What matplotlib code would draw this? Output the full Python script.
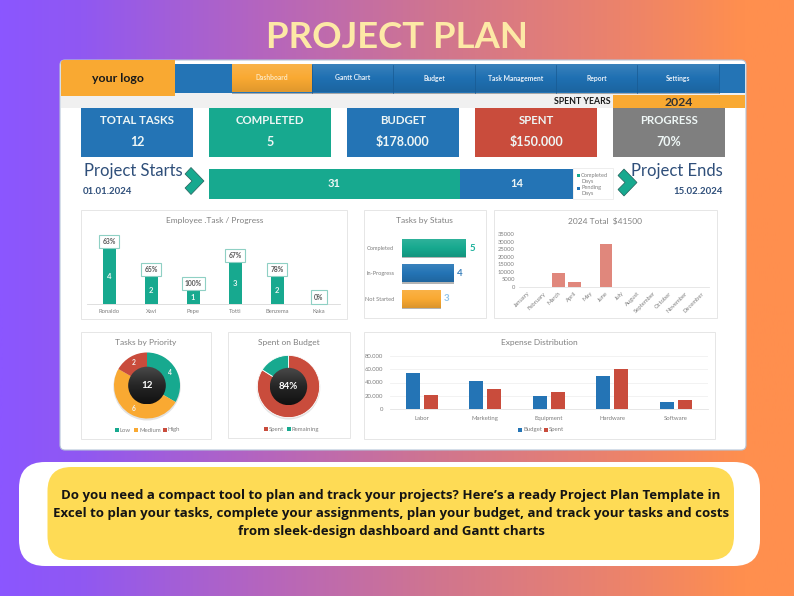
import numpy as np
import matplotlib
matplotlib.use("Agg")
import matplotlib.pyplot as plt
from matplotlib.patches import Rectangle, FancyBboxPatch, Polygon, Circle
from matplotlib.colors import LinearSegmentedColormap, to_rgb

plt.rcParams['font.family'] = ['Lato', 'DejaVu Sans']

BLUE = '#2474b5'; TEAL = '#17a98f'; RED = '#c94c3c'; GREY = '#7f7f7f'; ORANGE = '#f9a932'
NAVY = '#2f4f7a'; TXT = '#7f7f7f'

W, H = 794, 596
fig = plt.figure(figsize=(W/100, H/100), dpi=100)
base = fig.add_axes([0, 0, 1, 1])
base.set_xlim(0, W); base.set_ylim(H, 0); base.axis('off'); base.set_autoscale_on(False)

def ax_px(x0, y0, x1, y1):
    a = fig.add_axes([x0/W, 1-y1/H, (x1-x0)/W, (y1-y0)/H])
    a.patch.set_alpha(0)
    return a

def rect(x0, y0, x1, y1, c, **k):
    base.add_patch(Rectangle((x0, y0), x1-x0, y1-y0, fc=c, ec=k.pop('ec', 'none'), **k))

def rrect(x0, y0, x1, y1, c, r, **k):
    base.add_patch(FancyBboxPatch((x0+r, y0+r), x1-x0-2*r, y1-y0-2*r,
                   boxstyle=f'round,pad={r},rounding_size={r}', fc=c, ec=k.pop('ec', 'none'), **k))

def shade(c, f):
    r = np.array(to_rgb(c))
    return tuple(np.clip(r + (1-r)*f, 0, 1)) if f > 0 else tuple(r*(1+f))

def vgrad(c, top=.12, bottom=-.1):
    return LinearSegmentedColormap.from_list('v', [shade(c, top), shade(c, 0), shade(c, bottom)])

def grect(x0, y0, x1, y1, c, z=3):
    base.imshow(np.linspace(0, 1, 32).reshape(-1, 1), cmap=vgrad(c), extent=[x0, x1, y1, y0],
                aspect='auto', zorder=z)

# ---------- data ----------
nav_labels = ['Dashboard', 'Gantt Chart', 'Budget', 'Task Management', 'Report', 'Settings']
kpi_titles = ['TOTAL TASKS', 'COMPLETED', 'BUDGET', 'SPENT', 'PROGRESS']
kpi_values = ['12', '5', '$178.000', '$150.000', '70%']
timeline_days = [31, 14]
timeline_names = ['Completed\nDays', 'Pending\nDays']

employees = ['Ronaldo', 'Xavi', 'Pepe', 'Totti', 'Benzema', 'Kaka']
employee_tasks = [4, 2, 1, 3, 2, 0]
employee_progress = ['63%', '65%', '100%', '67%', '78%', '0%']

status_names = ['Completed', 'In-Progress', 'Not Started']
status_values = [5, 4, 3]

months = ['January', 'February', 'March', 'April', 'May', 'June', 'July', 'August',
          'September', 'October', 'November', 'December']
month_totals = [0, 0, 8900, 3100, 0, 28600, 0, 0, 0, 0, 0, 0]

priority_names = ['Low', 'Medium', 'High']
priority_values = [4, 6, 2]
budget_names = ['Spent', 'Remaining']
budget_values = [84, 16]

expense_cats = ['Labor', 'Marketing', 'Equipment', 'Hardware', 'Software']
expense_budget = [54000, 42000, 20000, 50000, 10000]
expense_spent = [21000, 29500, 25000, 60000, 14000]

# ---------- background ----------
grad = LinearSegmentedColormap.from_list('g', [(0, '#8b56ff'), (.1, '#9058f2'), (.33, '#b565be'),
                                               (.55, '#d0758f'), (.8, '#ee8468'), (.94, '#ff8f4e'), (1, '#ff8f4e')])
base.imshow(np.linspace(0, 1, 400).reshape(1, -1), cmap=grad, extent=[0, W, H, 0], aspect='auto', zorder=0)

base.text(397, 38, 'PROJECT PLAN', ha='center', va='center', fontsize=26.3, color='#fde9a6',
          fontweight='bold', zorder=4)

# ---------- dashboard sheet ----------
rrect(60, 60, 746, 450, 'white', 5, ec='#b4c4d8', lw=0.8, zorder=1)
rect(61, 64, 745, 92.5, BLUE, zorder=2)
rect(61, 92.5, 745, 108, '#f0f0f0', zorder=2)
rrect(61, 60, 175, 96, ORANGE, 3, zorder=2)
rect(61, 72, 175, 96, ORANGE, zorder=2)
rect(100, 60, 175, 72, ORANGE, zorder=2)
base.text(118, 78, 'your logo', ha='center', va='center', fontsize=8.9, fontweight='bold',
          color='#1a1a1a', zorder=4)

nav_edges = [232, 312, 393, 475, 556, 637, 719]
for i, lab in enumerate(nav_labels):
    x0, x1 = nav_edges[i], nav_edges[i+1]
    rect(x0, 92.5, x1, 94, '#a8a8a8', zorder=2)
    grect(x0, 64.5, x1, 92.5, ORANGE if i == 0 else '#1f70b2')
    base.plot([x1, x1], [64.5, 92.5], color='#185a92', lw=0.5, zorder=3.5)
    base.text((x0+x1)/2, 78, lab, ha='center', va='center', fontsize=4.9, fontweight='bold',
              color='#fde7c0' if i == 0 else '#e8f0f8', zorder=4)

base.text(611, 102, 'SPENT YEARS', ha='right', va='center', fontsize=6.3, fontweight='bold',
          color='#1a1a1a', zorder=4)
rect(613, 95, 745, 108, ORANGE, zorder=3)
base.text(679, 102, '2024', ha='center', va='center', fontsize=8.8, fontweight='bold', color='#333333', zorder=4)

kpi_boxes = [(81, 193, BLUE), (209, 331, TEAL), (347, 459, BLUE), (475, 597, RED), (613, 725, GREY)]
for (x0, x1, c), t, v in zip(kpi_boxes, kpi_titles, kpi_values):
    rect(x0, 108, x1, 157, c, zorder=2)
    base.text((x0+x1)/2, 121, t, ha='center', va='center', fontsize=8.2, fontweight='bold', color='#eef6f5', zorder=4)
    base.text((x0+x1)/2, 142, v, ha='center', va='center', fontsize=9, fontweight='bold', color='#eef6f5', zorder=4)

# ---------- timeline ----------
base.text(84, 171, 'Project Starts', ha='left', va='center', fontsize=12, color=NAVY, zorder=4)
base.text(83, 192, '01.01.2024', ha='left', va='center', fontsize=6.9, fontweight='bold', color=NAVY, zorder=4)
base.text(723, 171, 'Project Ends', ha='right', va='center', fontsize=12, color=NAVY, zorder=4)
base.text(723, 192, '15.02.2024', ha='right', va='center', fontsize=6.9, fontweight='bold', color=NAVY, zorder=4)

def chevron(x, cy):
    base.add_patch(Polygon([(x, cy-7), (x+6, cy-13.5), (x+19, cy), (x+6, cy+13.5), (x, cy+7), (x+7, cy)],
                           fc=TEAL, ec='#245f5a', lw=0.5, zorder=3))
chevron(185, 181); chevron(618, 182.5)

tl = ax_px(209, 169, 573, 199)
left = 0
for v, c in zip(timeline_days, [TEAL, BLUE]):
    tl.barh(0, v, left=left, height=1, color=c)
    tl.text(left+v/2, 0, str(v), ha='center', va='center', fontsize=8, fontweight='bold', color='#eef6f5')
    left += v
tl.set_xlim(0, sum(timeline_days)); tl.set_ylim(-.5, .5); tl.axis('off')

rect(573, 168, 613, 199, 'white', ec='#e8e8e8', lw=0.5, zorder=2)
for y, c, n in zip([175.5, 188], [TEAL, BLUE], timeline_names):
    rect(577, y-1.5, 580, y+1.5, c, zorder=3)
    base.text(581, y+3, n, ha='left', va='center', fontsize=4.1, color=TXT, linespacing=1.25, zorder=4)

# ---------- chart panels ----------
for x0, y0, x1, y1 in [(81, 210, 347, 319), (364, 210, 486, 318), (494, 210, 717, 318),
                       (81, 332, 211, 439), (228, 332, 350, 438), (364, 332, 715, 439)]:
    rect(x0, y0, x1, y1, 'white', ec='#e6e6e6', lw=0.7, zorder=2)

def title(x, y, s, fs=6):
    base.text(x, y, s, ha='center', va='center', fontsize=fs, color='#808080', zorder=4)

# employee
title(214.5, 221, 'Employee .Task / Progress')
a = ax_px(87, 236, 340, 304)
xp = np.arange(len(employees))
a.bar(xp, employee_tasks, width=0.31, color=TEAL)
for x, t, p in zip(xp, employee_tasks, employee_progress):
    if t:
        a.text(x, t/2, str(t), ha='center', va='center', fontsize=5.5, fontweight='bold', color='#e8f5f2')
    a.annotate(p, (x, t), xytext=(0, 5), textcoords='offset points', ha='center', va='center',
               fontsize=4.9, fontweight='bold', color='#595959',
               bbox=dict(boxstyle='square,pad=0.45', fc='white', ec='#8fd0c4', lw=0.8))
a.set_xlim(-.53, 5.5); a.set_ylim(0, 4.86)
a.set_xticks(xp, employees)
a.tick_params(axis='x', length=0, labelsize=4.2, labelcolor=TXT, pad=3.5)
a.set_yticks([])
for s in ['top', 'left', 'right']:
    a.spines[s].set_visible(False)
a.spines['bottom'].set_color('#d9d9d9'); a.spines['bottom'].set_linewidth(0.6)

# status
title(424.7, 221, 'Tasks by Status')
a = ax_px(402, 235.5, 472.4, 311.5)
yp = np.arange(3)
cols = [TEAL, BLUE, ORANGE]
a.barh(yp+0.05, status_values, height=0.7, color='#777777', alpha=.55, left=0.03)
bars = a.barh(yp, status_values, height=0.7, color=cols)
for b, c in zip(bars, cols):
    x0, y0, bw, bh = b.get_x(), b.get_y(), b.get_width(), b.get_height()
    a.imshow(np.linspace(0, 1, 32).reshape(-1, 1), cmap=vgrad(c, .1, -.12),
             extent=[x0, x0+bw, y0+bh, y0], aspect='auto', zorder=3)
for y, v, c in zip(yp, status_values, ['#19b09a', '#3c82bd', '#8fc4ea']):
    a.text(v+0.28, y, str(v), ha='left', va='center', fontsize=7, fontweight='bold', color=c)
a.set_xlim(0, 5.5); a.set_ylim(2.5, -0.5)
a.set_yticks(yp, status_names)
a.set_xticks([])
a.tick_params(axis='y', length=0, labelsize=4.1, labelcolor=TXT, pad=5.5)
for s in a.spines.values():
    s.set_visible(False)

# monthly
title(605.5, 221.5, '2024 Total  $41500')
a = ax_px(519, 234, 709, 286.7)
xm = np.arange(12)
a.bar(xm, month_totals, width=0.78, color='#e0877c')
a.set_xlim(-.5, 11.5); a.set_ylim(0, 35000)
a.set_yticks(range(0, 35001, 5000))
a.set_xticks(xm, months, rotation=45, ha='right', rotation_mode='anchor')
a.tick_params(axis='both', length=0, labelsize=4.2, labelcolor=TXT, pad=3)
for s in ['top', 'left', 'right']:
    a.spines[s].set_visible(False)
a.spines['bottom'].set_color('#e3e3e3'); a.spines['bottom'].set_linewidth(0.6)

# donuts
def donut(x0, y0, x1, y1, vals, cols, start, labels, centre, hole_r, edge):
    a = ax_px(x0, y0, x1, y1)
    a.add_patch(Circle((0.0, -0.04), 1.02, fc='#e2e2e2', ec='none'))
    a.pie(vals, colors=cols, startangle=start, counterclock=False, radius=1,
          wedgeprops=dict(width=1, ec='white' if edge else 'none', lw=edge))
    cm = LinearSegmentedColormap.from_list('d', ['#111111', '#262626', '#4a4a4a'])
    img = a.imshow(np.linspace(0, 1, 64).reshape(-1, 1), cmap=cm, origin='lower',
                   extent=[-hole_r, hole_r, -hole_r, hole_r], aspect='auto', zorder=5)
    img.set_clip_path(Circle((0, 0), hole_r, transform=a.transData))
    a.set_xlim(-1.06, 1.06); a.set_ylim(-1.06, 1.06)
    a.text(0, 0, centre, ha='center', va='center', fontsize=7, fontweight='bold', color='white', zorder=6)
    ang = start
    total = sum(vals)
    for v, lab in zip(vals, labels):
        mid = np.deg2rad(ang - v/total*180)
        if lab:
            a.text(0.8*np.cos(mid), 0.8*np.sin(mid), lab, ha='center', va='center', fontsize=4.8,
                   fontweight='bold', color='#f2f2f2', zorder=6)
        ang -= v/total*360
    a.axis('off')

title(145.7, 342.5, 'Tasks by Priority')
donut(112, 350.5, 182, 420.5, priority_values, [TEAL, ORANGE, RED], 90,
      [str(v) for v in priority_values], '12', 0.57, 0)
title(288.5, 342.5, 'Spent on Budget')
donut(255.5, 353.5, 321.5, 419.5, budget_values, [RED, TEAL], 90, ['', ''], '84%', 0.6, 0.6)

def legend_row(items, y, fs=4.3):
    for x, c, n in items:
        rect(x-5, y-1.8, x-1.3, y+1.8, c, zorder=3)
        base.text(x, y, n, ha='left', va='center', fontsize=fs, color=TXT, zorder=4)

legend_row(list(zip([120, 139, 168], [TEAL, ORANGE, RED], priority_names)), 430)
legend_row(list(zip([269, 292], [RED, TEAL], budget_names)), 429)

# expense
title(539, 343, 'Expense Distribution')
a = ax_px(390, 356, 707.5, 409)
xe = np.arange(len(expense_cats))
a.bar(xe-0.142, expense_budget, width=0.225, color=BLUE)
a.bar(xe+0.142, expense_spent, width=0.225, color=RED)
a.set_xlim(-.5, 4.5); a.set_ylim(0, 80000)
a.set_yticks(range(0, 80001, 20000), ['0', '20.000', '40.000', '60.000', '80.000'])
a.set_xticks(xe, expense_cats)
a.grid(axis='y', color='#f0f0f0', lw=0.6); a.set_axisbelow(True)
a.tick_params(axis='both', length=0, labelsize=4.3, labelcolor=TXT, pad=5)
for s in ['top', 'left', 'right']:
    a.spines[s].set_visible(False)
a.spines['bottom'].set_color('#e3e3e3'); a.spines['bottom'].set_linewidth(0.6)
legend_row([(523, BLUE, 'Budget'), (549, RED, 'Spent')], 430)

# ---------- caption ----------
rrect(19, 462, 760, 566, 'white', 26, zorder=2)
rrect(47.5, 467, 734, 560, '#fedb55', 24, zorder=3)
caption = ["Do you need a compact tool to plan and track your projects? Here\u2019s a ready Project Plan Template in",
           "Excel to plan your tasks, complete your assignments, plan your budget, and track your tasks and costs",
           "from sleek-design dashboard and Gantt charts"]
for y, s in zip([496, 514, 532], caption):
    base.text(391, y, s, ha='center', va='center', fontsize=9.5, fontweight='bold', color='#141414',
              family=['Open Sans', 'DejaVu Sans'], zorder=4)

fig.savefig('out.png', dpi=100)
